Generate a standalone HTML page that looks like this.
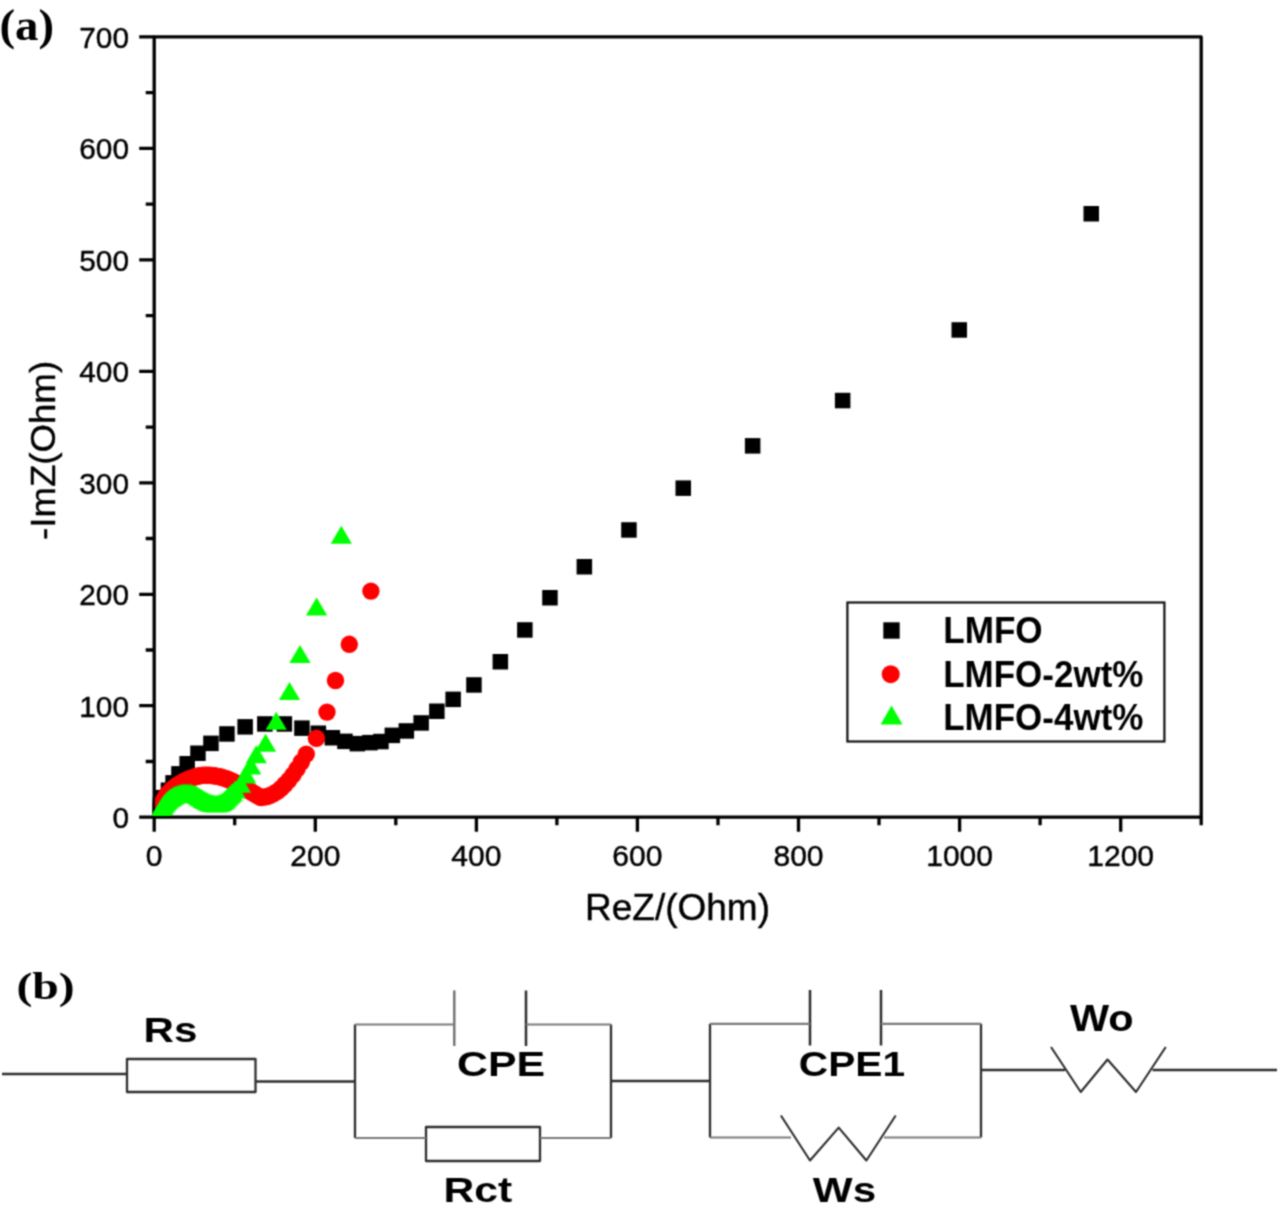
<!DOCTYPE html>
<html><head><meta charset="utf-8"><title>EIS</title>
<style>html,body{margin:0;padding:0;background:#fff;width:1280px;height:1207px;overflow:hidden}svg{display:block}text{font-family:"Liberation Sans",sans-serif}</style>
</head><body>
<svg width="1280" height="1207" viewBox="0 0 1280 1207">
<defs><filter id="bl" x="0" y="0" width="1280" height="1207" filterUnits="userSpaceOnUse" color-interpolation-filters="sRGB"><feConvolveMatrix order="3" kernelMatrix="0.05090 0.12381 0.05090 0.12381 0.30116 0.12381 0.05090 0.12381 0.05090" edgeMode="duplicate"/></filter></defs><g filter="url(#bl)">
<rect width="1280" height="1207" fill="#fff"/>
<g style="font-family:'Liberation Serif',serif" font-weight="bold" fill="#000">
<text x="-0.60" y="40.40" font-size="44.08" textLength="54.65" lengthAdjust="spacingAndGlyphs" style="font-family:&quot;Liberation Serif&quot;,serif">(a)</text>
<text x="16.50" y="999.15" font-size="37.50" textLength="58.20" lengthAdjust="spacingAndGlyphs" style="font-family:&quot;Liberation Serif&quot;,serif">(b)</text>
</g>
<defs><clipPath id="pc"><rect x="152.7" y="30" width="1050" height="785.7"/></clipPath><clipPath id="pr"><rect x="155.6" y="30" width="1050" height="785.7"/></clipPath></defs>
<path d="M154.2 36.9H1201.2V817.2H154.2Z" fill="none" stroke="#000" stroke-width="3.3" stroke-linejoin="round"/>
<path d="M139.2 817.2H154.2M145.7 761.5H154.2M139.2 705.7H154.2M145.7 650.0H154.2M139.2 594.3H154.2M145.7 538.5H154.2M139.2 482.8H154.2M145.7 427.1H154.2M139.2 371.3H154.2M145.7 315.6H154.2M139.2 259.8H154.2M145.7 204.1H154.2M139.2 148.4H154.2M145.7 92.6H154.2M139.2 36.9H154.2M154.2 817.2V831.7M234.7 817.2V825.2M315.3 817.2V831.7M395.8 817.2V825.2M476.4 817.2V831.7M556.9 817.2V825.2M637.4 817.2V831.7M718.0 817.2V825.2M798.5 817.2V831.7M879.0 817.2V825.2M959.6 817.2V831.7M1040.1 817.2V825.2M1120.7 817.2V831.7M1201.2 817.2V825.2" stroke="#000" stroke-width="3.3" fill="none"/>
<g clip-path="url(#pc)">
<g fill="#000"><rect x="148.2" y="803.2" width="15.5" height="15.5"/><rect x="149.8" y="800.2" width="15.5" height="15.5"/><rect x="151.3" y="797.0" width="15.5" height="15.5"/><rect x="153.1" y="793.5" width="15.5" height="15.5"/><rect x="155.3" y="789.9" width="15.5" height="15.5"/><rect x="160.7" y="782.5" width="15.5" height="15.5"/><rect x="165.3" y="775.1" width="15.5" height="15.5"/><rect x="171.2" y="766.1" width="15.5" height="15.5"/><rect x="179.4" y="756.0" width="15.5" height="15.5"/><rect x="190.2" y="745.5" width="15.5" height="15.5"/><rect x="203.2" y="735.6" width="15.5" height="15.5"/><rect x="219.2" y="726.2" width="15.5" height="15.5"/><rect x="237.4" y="719.1" width="15.5" height="15.5"/><rect x="257.1" y="716.2" width="15.5" height="15.5"/><rect x="276.6" y="716.2" width="15.5" height="15.5"/><rect x="294.2" y="720.4" width="15.5" height="15.5"/><rect x="310.6" y="725.5" width="15.5" height="15.5"/><rect x="324.6" y="730.0" width="15.5" height="15.5"/><rect x="337.2" y="733.6" width="15.5" height="15.5"/><rect x="349.6" y="735.9" width="15.5" height="15.5"/><rect x="362.2" y="734.9" width="15.5" height="15.5"/><rect x="373.2" y="733.8" width="15.5" height="15.5"/><rect x="384.6" y="727.6" width="15.5" height="15.5"/><rect x="398.6" y="723.2" width="15.5" height="15.5"/><rect x="413.4" y="715.2" width="15.5" height="15.5"/><rect x="429.1" y="703.5" width="15.5" height="15.5"/><rect x="445.4" y="691.6" width="15.5" height="15.5"/><rect x="466.2" y="677.2" width="15.5" height="15.5"/><rect x="492.6" y="654.0" width="15.5" height="15.5"/><rect x="517.1" y="622.2" width="15.5" height="15.5"/><rect x="542.2" y="590.0" width="15.5" height="15.5"/><rect x="576.6" y="559.0" width="15.5" height="15.5"/><rect x="621.2" y="522.2" width="15.5" height="15.5"/><rect x="675.5" y="480.4" width="15.5" height="15.5"/><rect x="744.9" y="438.1" width="15.5" height="15.5"/><rect x="834.9" y="392.8" width="15.5" height="15.5"/><rect x="951.5" y="322.2" width="15.5" height="15.5"/><rect x="1083.5" y="206.0" width="15.5" height="15.5"/></g>
<g fill="#ff0000" clip-path="url(#pr)"><circle cx="158.0" cy="814.0" r="8.7"/><circle cx="158.5" cy="812.1" r="8.7"/><circle cx="159.1" cy="810.1" r="8.7"/><circle cx="159.7" cy="808.1" r="8.7"/><circle cx="160.4" cy="806.2" r="8.7"/><circle cx="161.3" cy="804.3" r="8.7"/><circle cx="162.3" cy="802.6" r="8.7"/><circle cx="163.3" cy="800.9" r="8.7"/><circle cx="164.4" cy="799.2" r="8.7"/><circle cx="165.5" cy="797.4" r="8.7"/><circle cx="166.6" cy="795.7" r="8.7"/><circle cx="167.8" cy="794.0" r="8.7"/><circle cx="169.1" cy="792.4" r="8.7"/><circle cx="170.5" cy="790.9" r="8.7"/><circle cx="172.0" cy="789.5" r="8.7"/><circle cx="173.6" cy="788.2" r="8.7"/><circle cx="175.2" cy="786.9" r="8.7"/><circle cx="176.8" cy="785.7" r="8.7"/><circle cx="178.6" cy="784.5" r="8.7"/><circle cx="180.3" cy="783.5" r="8.7"/><circle cx="182.1" cy="782.4" r="8.7"/><circle cx="183.9" cy="781.4" r="8.7"/><circle cx="185.7" cy="780.5" r="8.7"/><circle cx="187.5" cy="779.6" r="8.7"/><circle cx="189.3" cy="778.8" r="8.7"/><circle cx="191.2" cy="778.1" r="8.7"/><circle cx="193.2" cy="777.4" r="8.7"/><circle cx="195.2" cy="776.8" r="8.7"/><circle cx="197.2" cy="776.3" r="8.7"/><circle cx="199.2" cy="775.8" r="8.7"/><circle cx="201.3" cy="775.5" r="8.7"/><circle cx="203.3" cy="775.3" r="8.7"/><circle cx="205.4" cy="775.2" r="8.7"/><circle cx="207.4" cy="775.2" r="8.7"/><circle cx="209.5" cy="775.3" r="8.7"/><circle cx="211.6" cy="775.5" r="8.7"/><circle cx="213.6" cy="775.7" r="8.7"/><circle cx="215.7" cy="776.0" r="8.7"/><circle cx="217.8" cy="776.4" r="8.7"/><circle cx="219.8" cy="776.8" r="8.7"/><circle cx="221.7" cy="777.3" r="8.7"/><circle cx="223.7" cy="777.9" r="8.7"/><circle cx="225.7" cy="778.5" r="8.7"/><circle cx="227.6" cy="779.3" r="8.7"/><circle cx="229.6" cy="780.0" r="8.7"/><circle cx="231.5" cy="780.9" r="8.7"/><circle cx="233.4" cy="781.8" r="8.7"/><circle cx="235.4" cy="782.7" r="8.7"/><circle cx="237.2" cy="783.6" r="8.7"/><circle cx="239.0" cy="784.6" r="8.7"/><circle cx="240.8" cy="785.6" r="8.7"/><circle cx="242.5" cy="786.7" r="8.7"/><circle cx="244.3" cy="787.8" r="8.7"/><circle cx="246.1" cy="788.9" r="8.7"/><circle cx="248.0" cy="790.0" r="8.7"/><circle cx="249.8" cy="791.1" r="8.7"/><circle cx="251.7" cy="792.1" r="8.7"/><circle cx="253.6" cy="793.3" r="8.7"/><circle cx="255.4" cy="794.3" r="8.7"/><circle cx="257.2" cy="795.4" r="8.7"/><circle cx="258.9" cy="796.4" r="8.7"/><circle cx="261.0" cy="797.6" r="8.7"/><circle cx="263.8" cy="797.1" r="8.7"/><circle cx="266.9" cy="796.5" r="8.7"/><circle cx="270.2" cy="795.4" r="8.7"/><circle cx="273.7" cy="793.7" r="8.7"/><circle cx="277.4" cy="791.4" r="8.7"/><circle cx="281.1" cy="788.3" r="8.7"/><circle cx="284.9" cy="784.5" r="8.7"/><circle cx="288.9" cy="780.1" r="8.7"/><circle cx="293.0" cy="774.9" r="8.7"/><circle cx="297.1" cy="768.8" r="8.7"/><circle cx="301.4" cy="762.0" r="8.7"/><circle cx="306.3" cy="754.1" r="8.7"/><circle cx="316.4" cy="738.3" r="8.7"/><circle cx="327" cy="712.1" r="8.7"/><circle cx="335.5" cy="680.5" r="8.7"/><circle cx="349.3" cy="644.3" r="8.7"/><circle cx="370.9" cy="591.1" r="8.7"/></g>
<g fill="#00ff00"><path d="M157.5 806.0L168.1 824.0L146.9 824.0Z"/><path d="M158.5 804.2L169.1 822.2L147.9 822.2Z"/><path d="M159.4 802.4L170.0 820.4L148.8 820.4Z"/><path d="M160.5 800.6L171.1 818.6L149.9 818.6Z"/><path d="M161.5 798.7L172.1 816.7L150.9 816.7Z"/><path d="M162.6 797.0L173.2 815.0L152.0 815.0Z"/><path d="M163.8 795.3L174.4 813.3L153.2 813.3Z"/><path d="M165.1 793.6L175.7 811.6L154.5 811.6Z"/><path d="M166.5 791.9L177.1 809.9L155.9 809.9Z"/><path d="M168.1 790.4L178.7 808.4L157.5 808.4Z"/><path d="M169.8 789.1L180.4 807.1L159.2 807.1Z"/><path d="M171.6 787.9L182.2 805.9L161.0 805.9Z"/><path d="M173.4 786.8L184.0 804.8L162.8 804.8Z"/><path d="M175.4 785.8L186.0 803.8L164.8 803.8Z"/><path d="M177.4 785.0L188.0 803.0L166.8 803.0Z"/><path d="M179.6 784.3L190.2 802.3L169.0 802.3Z"/><path d="M181.8 783.8L192.4 801.8L171.2 801.8Z"/><path d="M184.0 783.5L194.6 801.5L173.4 801.5Z"/><path d="M186.2 783.4L196.8 801.4L175.6 801.4Z"/><path d="M188.5 783.5L199.1 801.5L177.9 801.5Z"/><path d="M190.8 783.8L201.4 801.8L180.2 801.8Z"/><path d="M193.0 784.3L203.6 802.3L182.4 802.3Z"/><path d="M195.2 785.1L205.8 803.1L184.6 803.1Z"/><path d="M197.2 786.1L207.8 804.1L186.6 804.1Z"/><path d="M199.2 787.4L209.8 805.4L188.6 805.4Z"/><path d="M201.2 788.6L211.8 806.6L190.6 806.6Z"/><path d="M203.2 789.9L213.8 807.9L192.6 807.9Z"/><path d="M205.3 791.1L215.9 809.1L194.7 809.1Z"/><path d="M207.4 792.2L218.0 810.2L196.8 810.2Z"/><path d="M209.6 793.2L220.2 811.2L199.0 811.2Z"/><path d="M211.8 793.9L222.4 811.9L201.2 811.9Z"/><path d="M214.1 794.3L224.7 812.3L203.5 812.3Z"/><path d="M216.5 794.4L227.1 812.4L205.9 812.4Z"/><path d="M218.9 794.0L229.5 812.0L208.3 812.0Z"/><path d="M221.2 793.2L231.8 811.2L210.6 811.2Z"/><path d="M223.3 792.0L233.9 810.0L212.7 810.0Z"/><path d="M225.2 790.5L235.8 808.5L214.6 808.5Z"/><path d="M227.0 788.6L237.6 806.6L216.4 806.6Z"/><path d="M228.7 786.8L239.3 804.8L218.1 804.8Z"/><path d="M230.5 785.0L241.1 803.0L219.9 803.0Z"/><path d="M232.3 783.2L242.9 801.2L221.7 801.2Z"/><path d="M235.2 780.4L245.8 798.4L224.6 798.4Z"/><path d="M240.5 774.7L251.1 792.7L229.9 792.7Z"/><path d="M245.8 765.6L256.4 783.6L235.2 783.6Z"/><path d="M250.7 756.5L261.3 774.5L240.1 774.5Z"/><path d="M256.3 745.2L266.9 763.2L245.7 763.2Z"/><path d="M265.6 733.7L276.2 751.7L255.0 751.7Z"/><path d="M276.2 711.7L286.8 729.7L265.6 729.7Z"/><path d="M289.5 682.0L300.1 700.0L278.9 700.0Z"/><path d="M300.0 645.0L310.6 663.0L289.4 663.0Z"/><path d="M316.6 597.5L327.2 615.5L306.0 615.5Z"/><path d="M341.3 525.8L351.9 543.8L330.7 543.8Z"/></g>
</g>
<g font-size="29" fill="#000" stroke="#000" stroke-width="0.4"><text transform="translate(129.00,828.00) scale(1.0285,1)" text-anchor="end">0</text><text transform="translate(129.00,716.53) scale(1.0285,1)" text-anchor="end">100</text><text transform="translate(129.00,605.06) scale(1.0285,1)" text-anchor="end">200</text><text transform="translate(129.00,493.59) scale(1.0285,1)" text-anchor="end">300</text><text transform="translate(129.00,382.11) scale(1.0285,1)" text-anchor="end">400</text><text transform="translate(129.00,270.64) scale(1.0285,1)" text-anchor="end">500</text><text transform="translate(129.00,159.17) scale(1.0285,1)" text-anchor="end">600</text><text transform="translate(129.00,47.70) scale(1.0285,1)" text-anchor="end">700</text></g>
<g font-size="29" fill="#000" stroke="#000" stroke-width="0.4"><text transform="translate(154.20,865.50) scale(1.0365,1)" text-anchor="middle">0</text><text transform="translate(315.28,865.50) scale(1.0365,1)" text-anchor="middle">200</text><text transform="translate(476.35,865.50) scale(1.0365,1)" text-anchor="middle">400</text><text transform="translate(637.43,865.50) scale(1.0365,1)" text-anchor="middle">600</text><text transform="translate(798.51,865.50) scale(1.0365,1)" text-anchor="middle">800</text><text transform="translate(959.58,865.50) scale(1.0365,1)" text-anchor="middle">1000</text><text transform="translate(1120.66,865.50) scale(1.0365,1)" text-anchor="middle">1200</text></g>
<g fill="#000" stroke="#000" stroke-width="0.4">
<text x="585.00" y="920.20" font-size="36.25" textLength="184.95" lengthAdjust="spacingAndGlyphs">ReZ/(Ohm)</text>
<text transform="translate(55.40,540.00) rotate(-90)" font-size="35.60" textLength="179.09" lengthAdjust="spacingAndGlyphs">-ImZ(Ohm)</text>
</g>
<rect x="847.4" y="602.5" width="317" height="139" fill="none" stroke="#111" stroke-width="2.2"/>
<rect x="883.3" y="622.3" width="16.4" height="16.4" fill="#000"/>
<circle cx="890.7" cy="674.2" r="9" fill="#ff0000"/>
<path d="M891.5 705.4L902.5 724.5L880.6 724.5Z" fill="#00ff00"/>
<g font-weight="bold" fill="#000">
<text x="943.20" y="643.00" font-size="36.00" textLength="99.52" lengthAdjust="spacingAndGlyphs">LMFO</text>
<text x="943.20" y="686.50" font-size="36.00" textLength="200.24" lengthAdjust="spacingAndGlyphs">LMFO-2wt%</text>
<text x="943.20" y="730.00" font-size="36.00" textLength="200.24" lengthAdjust="spacingAndGlyphs">LMFO-4wt%</text>
</g>
<g fill="none" stroke="#2e2e2e" stroke-width="2.3" stroke-linejoin="round">
<path d="M2 1074H127M255.5 1081.5H355M355 1024.5V1138M611 1024.5V1138M611 1081H710M710 1023.8V1137.5M981 1023.8V1137.5M981 1070H1065M1152.5 1070H1277"/>
<rect x="127" y="1059" width="128.5" height="33"/>
<rect x="426" y="1127" width="114" height="34"/>
<path d="M526 990.4V1046M810 990V1045.6M881 990V1045.6" stroke-width="2.5"/>
<path d="M454.3 990.4V1046" stroke="#6a6a6a" stroke-width="2.3"/>
<path d="M780.9 1115.5L810 1160.5L838.7 1127.6L866.4 1160.5L895.7 1115.5M1051 1047L1080.75 1092L1107.5 1059.5L1136 1092L1165.75 1047" stroke-width="2.1"/>
<path d="M355 1024.5H454.3M526 1024.5H611M355 1138H426M540 1138H611M710 1023.8H810M881 1023.8H981M710 1137.5H791M884 1137.5H981" stroke="#7a7a7a" stroke-width="2.2"/>
</g>
<g font-weight="bold" fill="#000">
<text x="143.60" y="1041.80" font-size="35.00" textLength="53.82" lengthAdjust="spacingAndGlyphs">Rs</text>
<text x="457.00" y="1076.40" font-size="35.00" textLength="88.03" lengthAdjust="spacingAndGlyphs">CPE</text>
<text x="443.50" y="1202.00" font-size="35.00" textLength="68.70" lengthAdjust="spacingAndGlyphs">Rct</text>
<text x="798.80" y="1076.20" font-size="35.00" textLength="106.27" lengthAdjust="spacingAndGlyphs">CPE1</text>
<text x="812.80" y="1201.90" font-size="35.00" textLength="63.34" lengthAdjust="spacingAndGlyphs">Ws</text>
<text x="1070.00" y="1030.90" font-size="37.00" textLength="63.69" lengthAdjust="spacingAndGlyphs">Wo</text>
</g>
</g>
</svg>
</body></html>
